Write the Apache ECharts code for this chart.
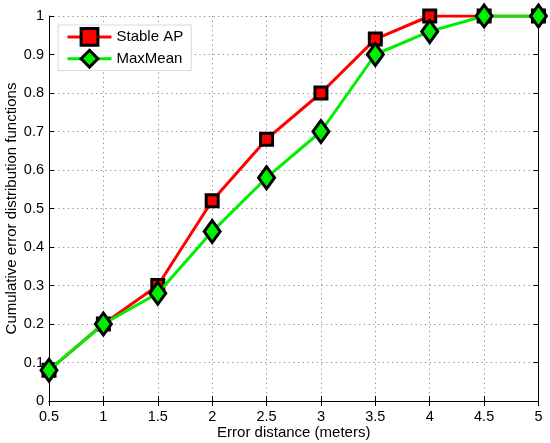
<!DOCTYPE html>
<html>
<head>
<meta charset="utf-8">
<script src="https://cdn.jsdelivr.net/npm/echarts@6/dist/echarts.min.js"></script>
<style>html,body{margin:0;padding:0;background:#fff}#c{width:550px;height:443px}</style>
</head>
<body>
<div id="c"></div>
<script>
var xValues = [0.5, 1, 1.5, 2, 2.5, 3, 3.5, 4, 4.5, 5];
var stableAP = [0.08, 0.2, 0.3, 0.52, 0.68, 0.8, 0.94, 1, 1, 1];
var maxMean = [0.08, 0.2, 0.28, 0.44, 0.58, 0.7, 0.9, 0.96, 1, 1];
var seriesNames = ['Stable AP', 'MaxMean'];

function pairs(ys) { return xValues.map(function (x, i) { return [x, ys[i]]; }); }
var font = 'Liberation Sans, Arial, Helvetica, sans-serif';
var grid = { type: [1.2, 3.5], color: '#8a8a8a', width: 1 };
var redStyle = { color: '#ff0000', borderColor: '#000', borderWidth: 3 };
var greenStyle = { color: '#00ee00', borderColor: '#000', borderWidth: 3 };

var chart = echarts.init(document.getElementById('c'), null, { renderer: 'canvas' });
chart.setOption({
  animation: false,
  backgroundColor: '#fff',
  grid: { left: 49, right: 11.5, top: 16, bottom: 42, containLabel: false, outerBoundsMode: 'none' },
  legend: {
    left: 58, top: 25, orient: 'vertical', itemWidth: 44, itemHeight: 21, itemGap: 2,
    padding: [2, 8, 2, 8],
    backgroundColor: '#fff', borderColor: '#d8d8d8', borderWidth: 1,
    textStyle: { fontFamily: font, fontSize: 15, color: '#000' },
    data: [
      { name: seriesNames[0], itemStyle: redStyle, lineStyle: { color: '#ff0000', width: 3 } },
      { name: seriesNames[1], itemStyle: greenStyle, lineStyle: { color: '#00ee00', width: 3 } }
    ]
  },
  xAxis: [{
    type: 'value', min: 0.5, max: 5, interval: 0.5,
    name: 'Error distance (meters)', nameLocation: 'middle', nameGap: 24, nameMoveOverlap: false,
    nameTextStyle: { fontFamily: font, fontSize: 15, color: '#000' },
    axisLine: { show: true, lineStyle: { color: '#000', width: 1 } },
    axisTick: { show: true, inside: true, length: 5, lineStyle: { color: '#000' } },
    axisLabel: { fontFamily: font, fontSize: 14.5, color: '#000', margin: 8 },
    splitLine: { show: true, lineStyle: grid }
  }, {
    type: 'value', position: 'top', min: 0.5, max: 5, interval: 0.5,
    axisLine: { show: true, lineStyle: { color: '#000', width: 1 } },
    axisTick: { show: true, inside: true, length: 5, lineStyle: { color: '#000' } },
    axisLabel: { show: false }, splitLine: { show: false }
  }],
  yAxis: [{
    type: 'value', min: 0, max: 1, interval: 0.1,
    name: 'Cumulative error distribution functions', nameLocation: 'middle', nameGap: 30, nameMoveOverlap: false,
    nameTextStyle: { fontFamily: font, fontSize: 15, color: '#000' },
    axisLine: { show: true, lineStyle: { color: '#000', width: 1 } },
    axisTick: { show: true, inside: true, length: 5, lineStyle: { color: '#000' } },
    axisLabel: { fontFamily: font, fontSize: 14.5, color: '#000', margin: 5,
      formatter: function (v) { return String(Math.round(v * 10) / 10); } },
    splitLine: { show: true, lineStyle: grid }
  }, {
    type: 'value', position: 'right', min: 0, max: 1, interval: 0.1,
    axisLine: { show: true, lineStyle: { color: '#000', width: 1 } },
    axisTick: { show: true, inside: true, length: 5, lineStyle: { color: '#000' } },
    axisLabel: { show: false }, splitLine: { show: false }
  }],
  series: [{
    name: seriesNames[0], type: 'line', data: pairs(stableAP),
    symbol: 'rect', symbolSize: 12, showAllSymbol: true,
    lineStyle: { color: '#ff0000', width: 3 },
    itemStyle: redStyle,
    z: 3
  }, {
    name: seriesNames[1], type: 'line', data: pairs(maxMean),
    symbol: 'diamond', symbolSize: [16, 22], showAllSymbol: true,
    lineStyle: { color: '#00ee00', width: 3 },
    itemStyle: greenStyle,
    z: 4
  }]
});
</script>
</body>
</html>
